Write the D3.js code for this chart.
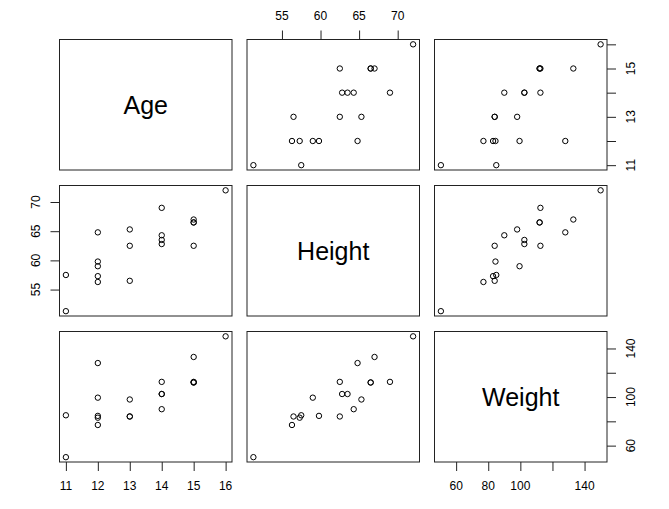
<!DOCTYPE html>
<html><head><meta charset="utf-8">
<script src="https://cdn.jsdelivr.net/npm/d3@7"></script>
<style>body{margin:0;background:#fff}svg{display:block}</style>
</head><body><svg id="c" width="669" height="509"></svg>
<script>
// SASHELP.CLASS style data (19 students)
const age    = [14, 13, 13, 14, 14, 12, 12, 15, 13, 12, 11, 14, 12, 15, 16, 12, 15, 11, 15];
const height = [69.0, 56.5, 65.3, 62.8, 63.5, 57.3, 59.8, 62.5, 62.5, 59.0, 51.3, 64.3, 56.3, 66.5, 72.0, 64.8, 67.0, 57.5, 66.5];
const weight = [112.5, 84.0, 98.0, 102.5, 102.5, 83.0, 84.5, 112.5, 84.0, 99.5, 50.5, 90.0, 77.0, 112.0, 150.0, 128.0, 133.0, 85.0, 112.0];
const varNames = ["Age", "Height", "Weight"];
const ageTicks = [11, 12, 13, 14, 15, 16];
const heightTicks = [55, 60, 65, 70];
const weightTicks = [60, 80, 100, 120, 140];
const ageLabelsBottom = [11, 12, 13, 14, 15, 16];
const ageLabelsRight = [11, 13, 15];
const heightLabelsTop = [55, 60, 65, 70];
const heightLabelsLeft = [55, 60, 65, 70];
const weightLabelsBottom = [60, 80, 100, 140];
const weightLabelsRight = [60, 100, 140];

const series = [age, height, weight];
const ticks = [ageTicks, heightTicks, weightTicks];

const svg = d3.select("#c");
const font = "'Liberation Sans', Arial, sans-serif";
const colX = [59.5, 247, 434.5], rowY = [39.5, 185.5, 331.5];
const pw = 172.5, ph = 130.5;

function extDomain(v) {
  const mn = d3.min(v), mx = d3.max(v), s = mx - mn;
  return [mn - 0.04 * s, mx + 0.04 * s];
}
const xs = series.map((v, j) => d3.scaleLinear().domain(extDomain(v)).range([colX[j], colX[j] + pw]));
const ys = series.map((v, i) => d3.scaleLinear().domain(extDomain(v)).range([rowY[i] + ph, rowY[i]]));

for (let i = 0; i < 3; i++) {
  for (let j = 0; j < 3; j++) {
    const g = svg.append("g");
    if (i === j) {
      g.append("text").attr("x", colX[j] + pw / 2).attr("y", rowY[i] + ph / 2)
        .attr("text-anchor", "middle").attr("dominant-baseline", "central")
        .attr("font-family", font).attr("font-size", 25).attr("fill", "#000")
        .text(varNames[i]);
    } else {
      const pts = series[j].map((d, k) => [d, series[i][k]]);
      g.selectAll("circle").data(pts).enter().append("circle")
        .attr("cx", d => xs[j](d[0])).attr("cy", d => ys[i](d[1]))
        .attr("r", 2.7).attr("fill", "none").attr("stroke", "#000").attr("stroke-width", 1);
    }
    g.append("rect").attr("x", colX[j]).attr("y", rowY[i]).attr("width", pw).attr("height", ph)
      .attr("fill", "none").attr("stroke", "#222").attr("stroke-width", 1);
  }
}

function drawAxis(kind, scale, tv, labels, pos) {
  const ax = (kind === "bottom" ? d3.axisBottom(scale) : kind === "top" ? d3.axisTop(scale) :
              kind === "left" ? d3.axisLeft(scale) : d3.axisRight(scale))
    .tickValues(tv).tickSize(9).tickFormat("");
  const g = svg.append("g");
  if (kind === "bottom" || kind === "top") g.attr("transform", `translate(0,${pos})`);
  else g.attr("transform", `translate(${pos},0)`);
  g.call(ax);
  g.select(".domain").remove();
  g.selectAll(".tick line").attr("stroke", "#222").attr("stroke-width", 1);
  const off = 23.5;
  labels.forEach(v => {
    const t = g.append("text").attr("font-family", font).attr("font-size", 12).attr("fill", "#000")
      .attr("text-anchor", "middle").attr("dominant-baseline", "central").text(v);
    if (kind === "bottom") t.attr("x", scale(v)).attr("y", off);
    else if (kind === "top") t.attr("x", scale(v)).attr("y", -off);
    else {
      const x = kind === "left" ? -off : off;
      t.attr("transform", `translate(${x},${scale(v)}) rotate(-90)`);
    }
  });
}

drawAxis("bottom", xs[0], ageTicks, ageLabelsBottom, rowY[2] + ph);
drawAxis("top", xs[1], heightTicks, heightLabelsTop, rowY[0]);
drawAxis("bottom", xs[2], weightTicks, weightLabelsBottom, rowY[2] + ph);
drawAxis("right", ys[0], ageTicks, ageLabelsRight, colX[2] + pw);
drawAxis("left", ys[1], heightTicks, heightLabelsLeft, colX[0]);
drawAxis("right", ys[2], weightTicks, weightLabelsRight, colX[2] + pw);
</script></body></html>
